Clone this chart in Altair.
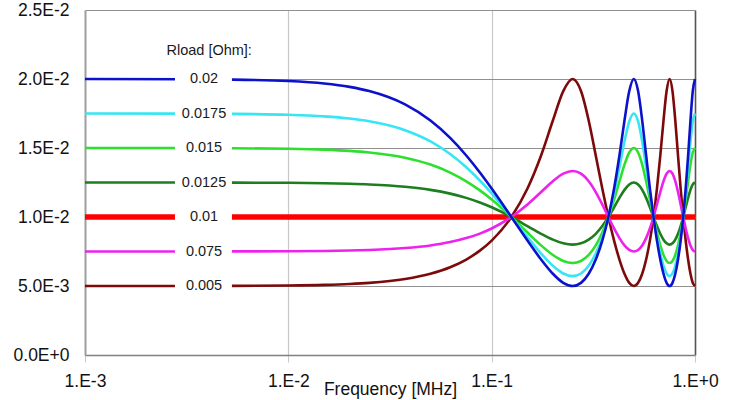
import altair as alt
import pandas as pd

# Input impedance magnitude of a line (Z0 = 0.01 Ohm) vs frequency, per load resistance
freq_mhz = [
    0.001, 0.003, 0.005, 0.01, 0.015, 0.02, 0.025, 0.0375, 0.05, 0.0625, 0.075, 0.0875, 0.1,
    0.125, 0.15, 0.175, 0.2, 0.225, 0.25, 0.275, 0.3, 0.325, 0.35, 0.375, 0.4,
    0.425, 0.45, 0.475, 0.5, 0.525, 0.55, 0.575, 0.6, 0.625, 0.65, 0.675, 0.7,
    0.725, 0.75, 0.775, 0.8, 0.825, 0.85, 0.875, 0.9, 0.925, 0.95, 0.975, 1.0,
]

z_0020 = [
    0.019999, 0.019987, 0.019963, 0.019853, 0.019674, 0.019429, 0.019126, 0.018159, 0.016990,
    0.015728, 0.014456, 0.013224, 0.012063,
    0.010000, 0.008290, 0.006918, 0.005886, 0.005229, 0.005000, 0.005229, 0.005886, 0.006918,
    0.008290, 0.010000, 0.012063, 0.014456, 0.016990, 0.019126, 0.020000, 0.019126, 0.016990,
    0.014456, 0.012063, 0.010000, 0.008290, 0.006918, 0.005886, 0.005229, 0.005000, 0.005229,
    0.005886, 0.006918, 0.008290, 0.010000, 0.012063, 0.014456, 0.016990, 0.019126, 0.020000,
]
z_00175 = [
    0.017499, 0.017492, 0.017476, 0.017406, 0.017291, 0.017132, 0.016933, 0.016285, 0.015473,
    0.014561, 0.013604, 0.012645, 0.011714,
    0.010000, 0.008537, 0.007351, 0.006463, 0.005906, 0.005714, 0.005906, 0.006463, 0.007351,
    0.008537, 0.010000, 0.011714, 0.013604, 0.015473, 0.016933, 0.017500, 0.016933, 0.015473,
    0.013604, 0.011714, 0.010000, 0.008537, 0.007351, 0.006463, 0.005906, 0.005714, 0.005906,
    0.006463, 0.007351, 0.008537, 0.010000, 0.011714, 0.013604, 0.015473, 0.016933, 0.017500,
]
z_0015 = [
    0.015000, 0.014995, 0.014987, 0.014947, 0.014881, 0.014790, 0.014675, 0.014292, 0.013797,
    0.013218, 0.012587, 0.011929, 0.011268,
    0.010000, 0.008874, 0.007945, 0.007248, 0.006814, 0.006667, 0.006814, 0.007248, 0.007945,
    0.008874, 0.010000, 0.011268, 0.012587, 0.013797, 0.014675, 0.015000, 0.014675, 0.013797,
    0.012587, 0.011268, 0.010000, 0.008874, 0.007945, 0.007248, 0.006814, 0.006667, 0.006814,
    0.007248, 0.007945, 0.008874, 0.010000, 0.011268, 0.012587, 0.013797, 0.014675, 0.015000,
]
z_00125 = [
    0.012500, 0.012498, 0.012494, 0.012477, 0.012449, 0.012410, 0.012360, 0.012191, 0.011966,
    0.011694, 0.011386, 0.011050, 0.010703,
    0.010000, 0.009343, 0.008783, 0.008357, 0.008091, 0.008000, 0.008091, 0.008357, 0.008783,
    0.009343, 0.010000, 0.010703, 0.011386, 0.011966, 0.012360, 0.012500, 0.012360, 0.011966,
    0.011386, 0.010703, 0.010000, 0.009343, 0.008783, 0.008357, 0.008091, 0.008000, 0.008091,
    0.008357, 0.008783, 0.009343, 0.010000, 0.010703, 0.011386, 0.011966, 0.012360, 0.012500,
]
z_00075 = [
    0.007500, 0.007502, 0.007505, 0.007518, 0.007540, 0.007572, 0.007612, 0.007750, 0.007941,
    0.008182, 0.008470, 0.008798, 0.009169,
    0.010000, 0.010906, 0.011807, 0.012593, 0.013137, 0.013333, 0.013137, 0.012593, 0.011807,
    0.010906, 0.010000, 0.009169, 0.008470, 0.007941, 0.007612, 0.007500, 0.007612, 0.007941,
    0.008470, 0.009169, 0.010000, 0.010906, 0.011807, 0.012593, 0.013137, 0.013333, 0.013137,
    0.012593, 0.011807, 0.010906, 0.010000, 0.009169, 0.008470, 0.007941, 0.007612, 0.007500,
]
z_0005 = [
    0.005000, 0.005003, 0.005009, 0.005037, 0.005083, 0.005147, 0.005229, 0.005507, 0.005886,
    0.006358, 0.006918, 0.007562, 0.008290,
    0.010000, 0.012063, 0.014456, 0.016990, 0.019126, 0.020000, 0.019126, 0.016990, 0.014456,
    0.012063, 0.010000, 0.008290, 0.006918, 0.005886, 0.005229, 0.005000, 0.005229, 0.005886,
    0.006918, 0.008290, 0.010000, 0.012063, 0.014456, 0.016990, 0.019126, 0.020000, 0.019126,
    0.016990, 0.014456, 0.012063, 0.010000, 0.008290, 0.006918, 0.005886, 0.005229, 0.005000,
]
# matched load: flat at Z0
freq_matched = [0.001, 1.0]
z_0010 = [0.010, 0.010]

series_names = ["0.005", "0.075", "0.0125", "0.015", "0.0175", "0.02"]
series_values = [z_0005, z_00075, z_00125, z_0015, z_00175, z_0020]
series_colors = ["#7d0a0a", "#ee22ee", "#1e7d1e", "#2ee02e", "#36e6f2", "#0c12cc"]

label_texts = ["0.02", "0.0175", "0.015", "0.0125", "0.01", "0.075", "0.005"]
label_levels = [0.020, 0.0175, 0.015, 0.0125, 0.010, 0.0075, 0.005]

rows = []
for name, vals in zip(series_names, series_values):
    for f, z in zip(freq_mhz, vals):
        rows.append({"f": f, "z": z, "rload": name})
curves = pd.DataFrame(rows)
matched = pd.DataFrame({"f": freq_matched, "z": z_0010})
labels = pd.DataFrame({"text": label_texts, "level": label_levels})

x_scale = alt.Scale(type="log", domain=[0.001, 1.0], nice=False)
y_scale = alt.Scale(domain=[0, 0.025], nice=False)

x_axis = alt.Axis(
    values=[0.001, 0.01, 0.1, 1.0],
    labelExpr="replace(upper(format(datum.value, '.0e')), 'E', '.E')",
    labelFlush=False,
    title="Frequency [MHz]",
    titleFontSize=17.5, titleFontWeight="normal", titleColor="#111",
    titleFont="Liberation Sans", titleY=34, titleBaseline="middle",
    labelFont="Liberation Sans", labelFontSize=17.5, labelColor="#111",
    labelPadding=10, tickSize=7, tickColor="#c8c8c8",
    domainColor="#808080", domainWidth=1.5,
    grid=True,
    gridColor={"condition": {"test": "datum.value >= 0.9", "value": "#555555"}, "value": "#c8c8c8"},
    gridWidth={"condition": {"test": "datum.value >= 0.9", "value": 1.6}, "value": 1.2},
)
y_axis = alt.Axis(
    values=[0, 0.005, 0.01, 0.015, 0.02, 0.025],
    labelExpr="upper(format(datum.value, '.1e'))",
    labelFlush=False,
    title=None,
    labelFont="Liberation Sans", labelFontSize=17.5, labelColor="#111",
    labelPadding=16, ticks=False,
    domainColor="#a0a0a0", domainWidth=2,
    grid=True, gridColor="#909090", gridWidth=1,
)

base_x = alt.X("f:Q", scale=x_scale, axis=x_axis)
base_y = alt.Y("z:Q", scale=y_scale, axis=y_axis)

matched_line = alt.Chart(matched).mark_line(color="#ff0000", strokeWidth=5.5).encode(
    x=base_x, y=base_y
)

curve_lines = alt.Chart(curves).mark_line(strokeWidth=2.6, interpolate="monotone").encode(
    x=alt.X("f:Q", scale=x_scale),
    y=alt.Y("z:Q", scale=y_scale),
    color=alt.Color("rload:N", scale=alt.Scale(domain=series_names, range=series_colors), legend=None),
    order=alt.Order("f:Q"),
)

# white gaps in the lines behind the inline value labels
gaps = alt.Chart(labels).transform_calculate(
    lo="datum.level - 0.00045", hi="datum.level + 0.00045"
).mark_rect(color="white").encode(
    x=alt.datum(0.00277, scale=x_scale),
    x2=alt.datum(0.00528),
    y=alt.Y("lo:Q", scale=y_scale),
    y2="hi:Q",
)

value_text = alt.Chart(labels).mark_text(
    font="Liberation Sans", fontSize=14.5, color="#1a1a1a", align="center", baseline="middle"
).encode(
    x=alt.datum(0.00385, scale=x_scale),
    y=alt.Y("level:Q", scale=y_scale),
    text="text:N",
)

legend_title = alt.Chart(pd.DataFrame({"t": ["Rload [Ohm]:"]})).mark_text(
    font="Liberation Sans", fontSize=14.5, color="#1a1a1a", align="center", baseline="middle"
).encode(
    x=alt.datum(0.00408, scale=x_scale),
    y=alt.datum(0.0220, scale=y_scale),
    text="t:N",
)

chart = alt.layer(matched_line, curve_lines, gaps, value_text, legend_title).properties(
    width=610,
    height=345,
    autosize=alt.AutoSizeParams(type="none"),
    padding={"left": 85, "top": 10, "right": 45, "bottom": 45},
    background="white",
).configure_view(stroke=None)

chart.save("out.html", embed_options={"renderer": "svg", "actions": False})
